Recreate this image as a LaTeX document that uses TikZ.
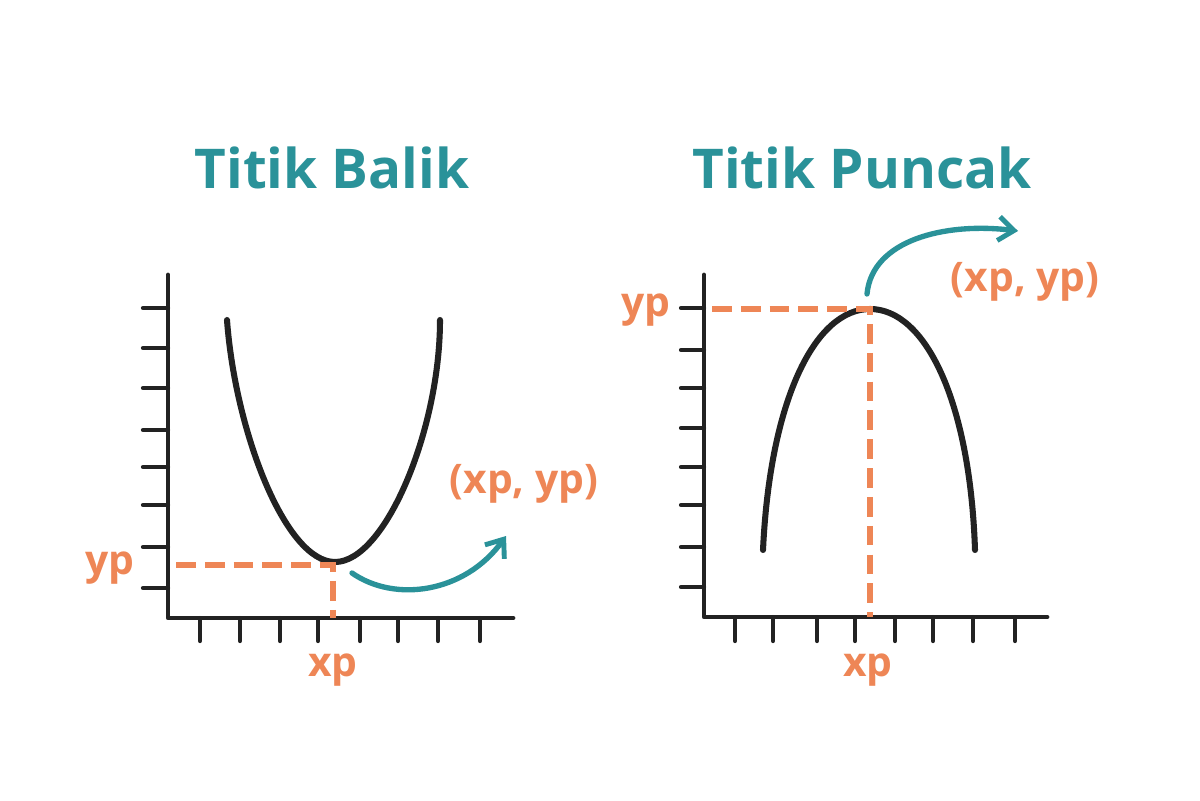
\documentclass[tikz,border=0pt]{standalone}
\usepackage{fontspec}
\setmainfont{Open Sans}
\usetikzlibrary{arrows.meta}
\definecolor{tealtitle}{HTML}{2A9299}
\definecolor{orangept}{HTML}{EE8656}
\definecolor{curvegray}{HTML}{222222}

\begin{document}
\begin{tikzpicture}[
    x=0.025cm, y=-0.025cm,
    title/.style={font=\fontsize{39}{44}\selectfont\bfseries, text=tealtitle},
    ptlabel/.style={font=\fontsize{29}{34}\selectfont\bfseries, text=orangept},
    axis/.style={line width=3.4pt, curvegray, line cap=round, line join=round},
    tick/.style={line width=3pt, curvegray, line cap=round},
    curve/.style={line width=4.3pt, curvegray, line cap=round},
    guide/.style={line width=4pt, orangept, dash pattern=on 14pt off 6.5pt},
    pointer/.style={line width=3.8pt, tealtitle, line cap=round, -{Straight Barb[length=11pt, width=17pt, line width=3.5pt]}},
]
\useasboundingbox (0,0) rectangle (1200,800);
% TITIK BALIK
\node[title] (t1) at (332,168) {Titik Balik};
\draw[axis] (168,275) -- (168,618) -- (513,618);
\foreach \y in {308,348,388,430,467,505,547,588} \draw[tick] (143,\y) -- (168,\y);
\foreach \x in {200,240,280,318,360,398,438,480} \draw[tick] (\x,618) -- (\x,641);
\coordinate (min1) at (335,562);
\draw[curve] (227,320) .. controls (235,430) and (285,562) .. (min1) .. controls (385,562) and (440,430) .. (440,320);
\coordinate (ya1) at (176,565);
\coordinate (xa1) at (333,618);
\draw[guide] (ya1) -- (333,565) -- (xa1);
\node[ptlabel, anchor=east] (yp1) at (139,568) {yp};
\node[ptlabel] (xp1) at (333,670) {xp};
\node[ptlabel] (pt1) at (524,484) {(xp, yp)};
\coordinate (s1) at (352,573);
\coordinate (e1) at (506,536);
\draw[pointer] (s1) .. controls (395,603) and (465,593) .. (e1);
% TITIK PUNCAK
\node[title] (t2) at (862,168) {Titik Puncak};
\draw[axis] (704,275) -- (704,617) -- (1047,617);
\foreach \y in {308,350,388,428,467,505,547,587} \draw[tick] (681,\y) -- (704,\y);
\foreach \x in {735,773,817,855,895,933,973,1015} \draw[tick] (\x,617) -- (\x,641);
\coordinate (max2) at (870,309);
\draw[curve] (763,550) .. controls (770,400) and (815,309) .. (max2) .. controls (925,309) and (970,400) .. (975,550);
\coordinate (ya2) at (712,309);
\coordinate (xa2) at (870,617);
\draw[guide] (ya2) -- (max2) -- (xa2);
\node[ptlabel, anchor=east] (yp2) at (675,310) {yp};
\node[ptlabel] (xp2) at (868,670) {xp};
\node[ptlabel] (pt2) at (1025,282) {(xp, yp)};
\coordinate (s2) at (867,294);
\coordinate (e2) at (1018,231);
\draw[pointer] (s2) .. controls (872,240) and (945,222) .. (e2);
\end{tikzpicture}
\end{document}
